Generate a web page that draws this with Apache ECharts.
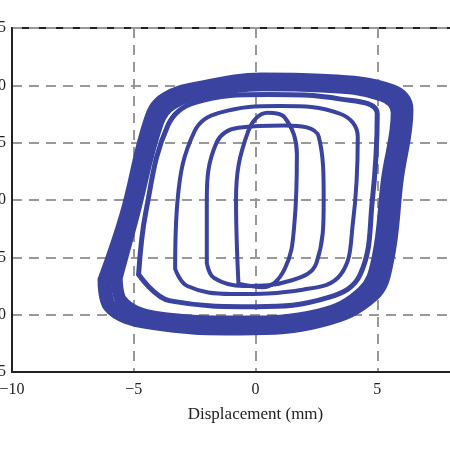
<!DOCTYPE html><html><head><meta charset="utf-8"><script src="https://cdn.jsdelivr.net/npm/echarts@6/dist/echarts.min.js"></script></head><body style="margin:0;background:#fff;overflow:hidden;width:450px;height:450px;position:relative"><div id="c" style="width:550px;height:450px;position:absolute;left:-40px;top:0"></div><script>
const xTicks=[-10,-5,0,5,10];
const yTicks=[-15,-10,-5,0,5,10,15];
const outer1=[[-6.2,-7.0],[-5.3,-1.3],[-4.3,7.0],[-3.7,8.8],[-2.2,9.8],[0.25,10.5],[2.7,10.4],[5.6,9.5],[6.2,7.9],[5.8,1.8],[5.4,-5.3],[4.8,-8.3],[2.7,-10.5],[-0.6,-11.2],[-4.3,-10.7],[-6.0,-9.2],[-6.2,-7.0]];
const outer2=[[-5.7,-6.8],[-5.0,-1.3],[-4.0,6.8],[-3.4,8.4],[-2.0,9.4],[0.3,10.0],[2.7,9.9],[5.2,9.1],[5.8,7.6],[5.4,1.8],[5.0,-5.2],[4.4,-8.0],[2.6,-10.0],[-0.6,-10.6],[-4.1,-10.2],[-5.5,-8.8],[-5.7,-6.8]];
const loopA=[[-4.8,-6.5],[-4.5,-1],[-3.6,6.5],[-2.5,8.5],[0.5,9.2],[3.5,8.8],[5.0,7.5],[4.8,0],[4.3,-6.5],[3.0,-8.5],[0,-9.3],[-3.5,-8.8],[-4.8,-6.5]];
const loopB=[[-3.3,-6],[-3.2,0],[-2.5,6],[-1.5,7.6],[1,8.2],[3.5,7.5],[4.2,5.5],[4.0,-2],[3.5,-6.5],[2,-7.8],[-1,-8.2],[-2.8,-7.5],[-3.3,-6]];
const loopC=[[-2.0,-5.5],[-2,0],[-1.6,5],[-0.7,6.3],[1.2,6.5],[2.6,5.5],[2.8,0],[2.5,-5.5],[1.5,-7],[-0.5,-7.5],[-1.7,-6.8],[-2,-5.5]];
const loopD=[[-0.7,-7.3],[-0.8,0],[-0.3,6],[0.5,7.6],[1.2,7.2],[1.7,4],[1.6,-2],[1.2,-6],[0.3,-7.6],[-0.7,-7.3]];
const col='#3a43a0';
function s(d,w){return {type:'line',data:d,smooth:0.4,symbol:'none',lineStyle:{color:col,width:w,join:'round',cap:'round'}};}
const lab={fontFamily:'Liberation Serif',fontSize:16,color:'#222',formatter:v=>String(v).replace('-','\u2212')};
echarts.init(document.getElementById('c')).setOption({animation:false,
grid:{left:52,right:5,top:28,bottom:78,show:true,borderColor:'#222',borderWidth:2},
xAxis:{type:'value',min:-10,max:10,interval:5,name:'Displacement (mm)',nameLocation:'middle',nameGap:34,
nameTextStyle:{fontFamily:'Liberation Serif',fontSize:17,color:'#222'},
axisLine:{onZero:false,lineStyle:{color:'#222',width:2}},axisTick:{show:false},axisLabel:Object.assign({margin:10},lab),
splitLine:{lineStyle:{type:[10,7],color:'#999',width:2}}},
yAxis:{type:'value',min:-15,max:15,interval:5,axisLine:{show:true,onZero:false,lineStyle:{color:'#222',width:2}},axisTick:{show:false},
axisLabel:Object.assign({margin:6},lab),
splitLine:{lineStyle:{type:[10,7],color:'#999',width:2}}},
series:[s(outer1,14),s(outer2,12),s(loopA,5),s(loopB,4),s(loopC,4),s(loopD,4)]});
</script></body></html>
